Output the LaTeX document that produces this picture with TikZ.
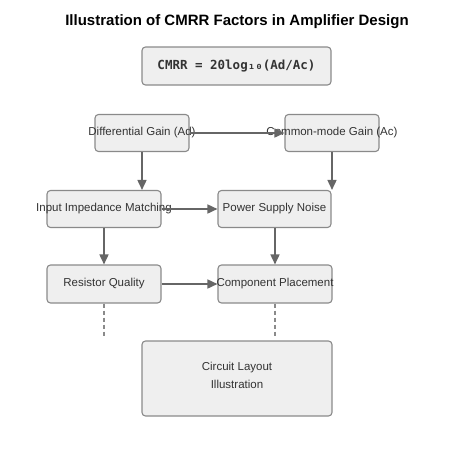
\documentclass[tikz,border=0pt]{standalone}
\usepackage{fontspec}
\setmainfont{Liberation Sans}
\newfontfamily\formulafont{DejaVu Sans Mono}
\usetikzlibrary{arrows.meta}
\definecolor{boxfill}{HTML}{EFEFEF}
\definecolor{boxline}{HTML}{8A8A8A}
\definecolor{arrowc}{HTML}{666666}
\definecolor{txt}{HTML}{333333}
\begin{document}
\begin{tikzpicture}[x=1pt,y=-1pt,
  factor/.style={draw=boxline, line width=1.1pt, fill=boxfill, rounded corners=3.5pt,
     inner sep=0pt},
  ftext/.style={text=txt, font=\fontsize{11.5}{14}\selectfont, align=center, inner sep=0pt},
  link/.style={draw=arrowc, line width=1.6pt, -{Triangle[length=10pt,width=9pt]}},
  dashlink/.style={draw=boxline, line width=1.1pt, dash pattern=on 4pt off 3pt}]
\useasboundingbox (0,0) rectangle (474,474);
\node[font=\bfseries\fontsize{15}{18}\selectfont, text=black] (title) at (237,22) {Illustration of CMRR Factors in Amplifier Design};
\node[factor, minimum width=189pt, minimum height=38pt,
  label={[ftext, font=\formulafont\bfseries\fontsize{12.5}{15}\selectfont]center:CMRR = 20log₁₀(Ad/Ac)}] (cmrr) at (236.5,66) {};
\node[factor, minimum width=94pt, minimum height=37pt,
  label={[ftext]center:Differential Gain (Ad)}] (ad) at (142,133) {};
\node[factor, minimum width=94pt, minimum height=37pt,
  label={[ftext]center:Common-mode Gain (Ac)}] (ac) at (332,133) {};
\node[factor, minimum width=114pt, minimum height=37pt,
  label={[ftext]center:Input Impedance Matching}] (imp) at (104,209) {};
\node[factor, minimum width=113pt, minimum height=37pt,
  label={[ftext]center:Power Supply Noise}] (psn) at (274.5,209) {};
\node[factor, minimum width=114pt, minimum height=38pt,
  label={[ftext]center:Resistor Quality}] (res) at (104,284) {};
\node[factor, minimum width=114pt, minimum height=38pt,
  label={[ftext]center:Component Placement}] (comp) at (275,284) {};
\node[factor, minimum width=190pt, minimum height=75pt] (lay) at (237,378.5) {};
\node[ftext, font=\fontsize{11.5}{18.5}\selectfont] (laytext) at (237,375.5) {Circuit Layout\\Illustration};
\coordinate (d1) at (104,338);
\coordinate (d2) at (275,338);
\draw[link] (ad) -- (ac);
\draw[link] (ad) -- (ad |- imp.north);
\draw[link] (ac) -- (ac |- psn.north);
\draw[link] (imp) -- (psn);
\draw[link] (imp) -- (res);
\draw[link] (psn.south -| comp) -- (comp);
\draw[link] (res) -- (comp);
\draw[dashlink] (res) -- (d1);
\draw[dashlink] (comp) -- (d2);
\end{tikzpicture}
\end{document}
